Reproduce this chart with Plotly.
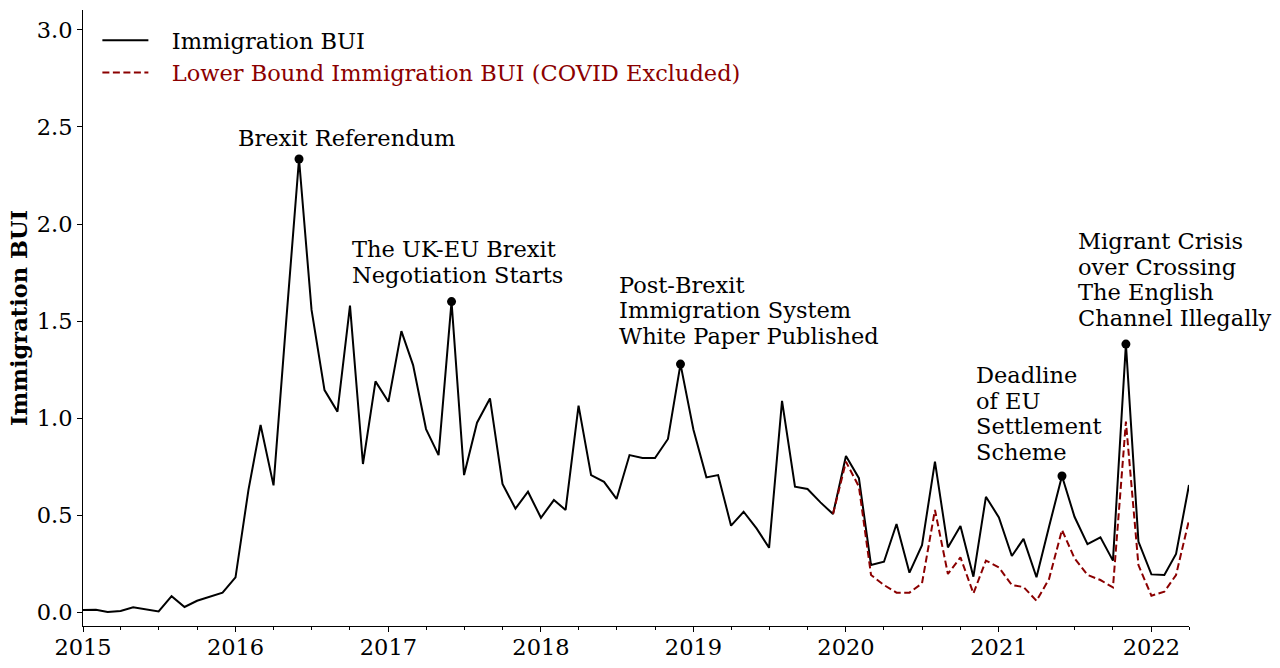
import pandas as pd
import plotly.graph_objects as go

# ---- data ----
start_month = "2015-01-01"
bui_values = [
    0.010, 0.012, 0.000, 0.005, 0.024, 0.015, 0.003, 0.082, 0.026, 0.058, 0.079, 0.100,
    0.179, 0.630, 0.964, 0.653, 1.490, 2.335, 1.557, 1.144, 1.033, 1.579, 0.763, 1.189,
    1.084, 1.448, 1.273, 0.943, 0.809, 1.600, 0.706, 0.976, 1.101, 0.660, 0.533, 0.620,
    0.486, 0.577, 0.526, 1.064, 0.706, 0.671, 0.583, 0.809, 0.794, 0.794, 0.892, 1.278,
    0.940, 0.694, 0.706, 0.445, 0.517, 0.431, 0.331, 1.088, 0.646, 0.634, 0.565, 0.505,
    0.804, 0.690, 0.242, 0.259, 0.454, 0.203, 0.345, 0.775, 0.333, 0.443, 0.182, 0.594,
    0.488, 0.289, 0.377, 0.179, 0.440, 0.701, 0.491, 0.350, 0.385, 0.265, 1.381, 0.363,
    0.194, 0.191, 0.299, 0.655,
]
lower_start_month = "2019-12-01"
lower_values = [
    0.505,
    0.775, 0.646, 0.191, 0.139, 0.100, 0.100, 0.148, 0.526, 0.196, 0.282, 0.096, 0.265,
    0.230, 0.139, 0.129, 0.058, 0.170, 0.423, 0.277, 0.191, 0.165, 0.127, 0.981, 0.242,
    0.084, 0.105, 0.191, 0.474,
]
event_months = ["2016-06-01", "2017-06-01", "2018-12-01", "2021-06-01", "2021-11-01"]
event_labels = [
    ["Brexit Referendum"],
    ["The UK-EU Brexit", "Negotiation Starts"],
    ["Post-Brexit", "Immigration System", "White Paper Published"],
    ["Deadline", "of EU", "Settlement", "Scheme"],
    ["Migrant Crisis", "over Crossing", "The English", "Channel Illegally"],
]
year_ticks = ["2015", "2016", "2017", "2018", "2019", "2020", "2021", "2022"]
y_ticks = [0.0, 0.5, 1.0, 1.5, 2.0, 2.5, 3.0]

# label placement (pixels, relative to event point): x shift, shift of last line, line spacing
label_dx = [-63, -102, -64, -88, -50]
label_dy_last = [21, 27, 28, 24, 26]
LINE_GAP = 25.7

months = pd.date_range(start_month, periods=len(bui_values), freq="MS")
lower_months = pd.date_range(lower_start_month, periods=len(lower_values), freq="MS")
bui_series = pd.Series(bui_values, index=months)
event_vals = [bui_series[pd.Timestamp(m)] for m in event_months]

FONT = "DejaVu Serif"
FS = 22.5
DARKRED = "#8B0000"
PAD = "\u2002\u00a0"

fig = go.Figure()
fig.add_trace(go.Scatter(
    x=months, y=bui_values, mode="lines", name=PAD + "Immigration BUI",
    line=dict(color="black", width=2),
))
fig.add_trace(go.Scatter(
    x=lower_months, y=lower_values, mode="lines",
    name=PAD + f'<span style="color:{DARKRED}">Lower Bound Immigration BUI (COVID Excluded)</span>',
    line=dict(color=DARKRED, width=2, dash="7px,3.5px"),
))
fig.add_trace(go.Scatter(
    x=pd.to_datetime(event_months), y=event_vals, mode="markers", showlegend=False,
    marker=dict(color="black", size=9),
))

for m, v, lines, dx, dy0 in zip(event_months, event_vals, event_labels, label_dx, label_dy_last):
    n = len(lines)
    for i, line in enumerate(lines):
        fig.add_annotation(
            x=m, y=v, xref="x", yref="y", text=line, showarrow=False,
            xanchor="left", yanchor="middle", align="left",
            xshift=dx, yshift=dy0 + (n - 1 - i) * LINE_GAP,
            font=dict(family=FONT, size=FS, color="black"),
        )

fig.update_layout(
    width=1280, height=668,
    margin=dict(l=83, r=91, t=10, b=42, autoexpand=False),
    paper_bgcolor="white", plot_bgcolor="white",
    font=dict(family=FONT, size=FS, color="black"),
    showlegend=True,
    legend=dict(
        x=0.013, y=0.985, xanchor="left", yanchor="top",
        bgcolor="rgba(0,0,0,0)", font=dict(family=FONT, size=FS, color="black"),
        itemwidth=46,
    ),
)
fig.update_xaxes(
    type="date", automargin=False,
    range=[months[0], "2022-04-01"],
    tickvals=pd.to_datetime([y + "-01-01" for y in year_ticks]),
    ticktext=year_ticks,
    showline=True, linecolor="black", linewidth=1,
    ticks="outside", ticklen=5, tickwidth=1, tickcolor="black",
    ticklabelstandoff=-4,
    minor=dict(dtick="M3", tick0="2015-01-01", ticks="outside", ticklen=3, tickcolor="black", showgrid=False),
    showgrid=False, zeroline=False,
    tickfont=dict(family=FONT, size=FS, color="black"),
)
fig.update_yaxes(
    automargin=False,
    range=[-0.072, 3.103],
    tickvals=y_ticks, tickformat=".1f",
    showline=True, linecolor="black", linewidth=1,
    ticks="outside", ticklen=5, tickwidth=1, tickcolor="black",
    showgrid=False, zeroline=False,
    tickfont=dict(family=FONT, size=FS, color="black"),
    title=dict(text="<b>Immigration BUI</b>", font=dict(family=FONT, size=FS, color="black"), standoff=2),
)

fig.write_html("out.html")
